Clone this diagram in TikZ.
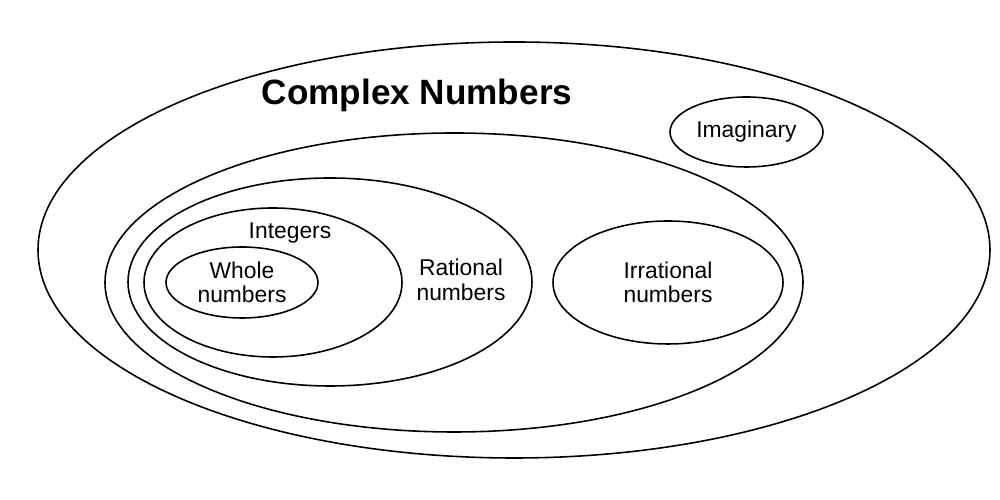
\documentclass[tikz,border=0pt]{standalone}
\usepackage{fontspec}
\setmainfont{Liberation Sans}
\usetikzlibrary{shapes.geometric}

\begin{document}
\begin{tikzpicture}[
    set/.style={draw, ellipse, line width=0.9pt, inner sep=0pt, align=center, font=\fontsize{13}{14}\selectfont},
    label/.style={align=center, font=\fontsize{13}{14}\selectfont}
]
\useasboundingbox (0,0) rectangle (20,10);

% outer sets
\node[set, minimum width=19.04cm, minimum height=8.32cm] (complex) at (10.28, 5.0) {};
\node[set, minimum width=13.96cm, minimum height=5.98cm] (real) at (9.08, 4.35) {};
\node[set, minimum width=3.06cm, minimum height=1.4cm] (imag) at (14.93, 7.36) {Imaginary};

% real numbers
\node[set, minimum width=8.08cm, minimum height=4.16cm] (rational) at (6.6, 4.36) {};
\node[set, minimum width=4.6cm, minimum height=2.46cm] (irrational) at (13.36, 4.35) {Irrational\\numbers};
\node[set, minimum width=5.16cm, minimum height=2.98cm] (integers) at (5.46, 4.35) {};
\node[set, minimum width=3.04cm, minimum height=1.42cm] (whole) at (4.84, 4.35) {Whole\\numbers};

% labels
\node[font=\fontsize{20}{22}\selectfont\bfseries] (complexlbl) at (8.34, 8.1) {Complex Numbers};
\node[label] (integerslbl) at (5.8, 5.34) {Integers};
\node[label] (rationallbl) at (9.22, 4.4) {Rational\\numbers};

\end{tikzpicture}
\end{document}
